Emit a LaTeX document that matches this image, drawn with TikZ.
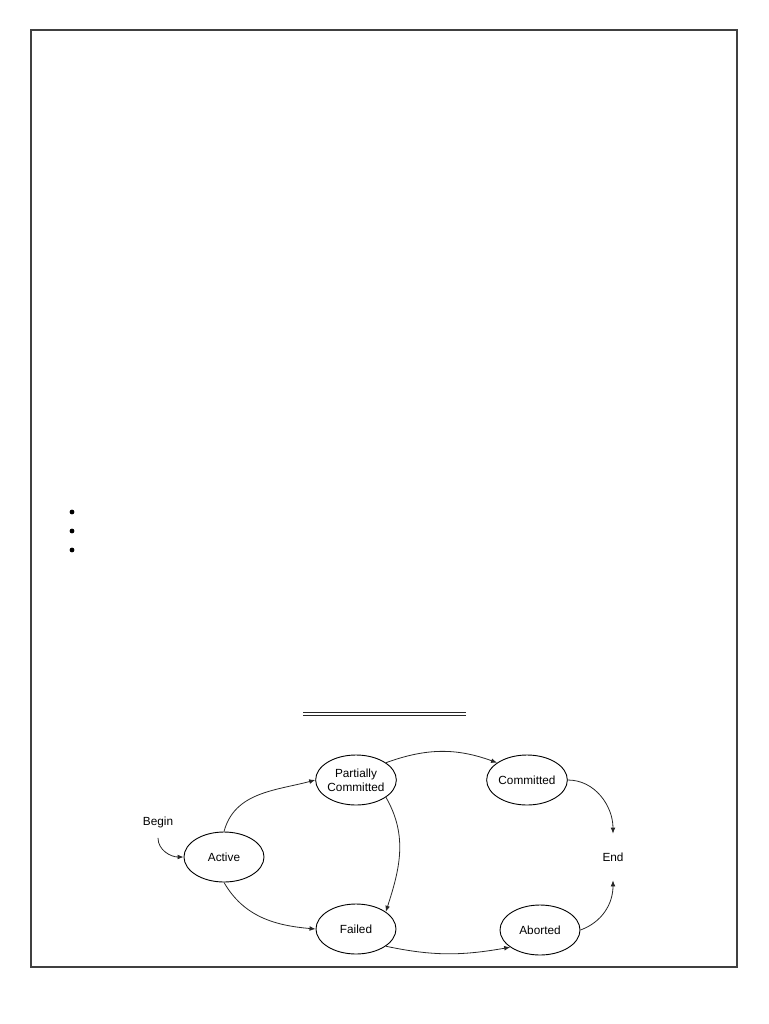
\documentclass[tikz,border=0pt]{standalone}
\usepackage{fontspec}
\setmainfont{Liberation Sans}
\usetikzlibrary{shapes.geometric,arrows.meta}

\begin{document}
\begin{tikzpicture}[x=0.5pt, y=-0.5pt,
   state/.style={ellipse, draw, line width=0.45pt, minimum width=40pt, minimum height=25pt,
      inner sep=0pt, align=center, font=\fontsize{5.9}{7}\selectfont},
   label text/.style={inner sep=1pt, font=\fontsize{5.9}{7}\selectfont},
   move/.style={-{Latex[length=3pt,width=2.4pt]}, line width=0.4pt, black!85}]
   % Page and frame
   \useasboundingbox (0,0) rectangle (768,1024);
   \draw[line width=0.8pt, black!75] (31,30) rectangle (737,967);

   % Bullets
   \foreach \y in {512,531,550}
      \fill (72,\y) circle (1.2pt);

   % Double rule over the diagram
   \draw[line width=0.5pt, black!85] (303,712) -- (466,712);
   \draw[line width=0.5pt, black!85] (303,715) -- (466,715);

   % States
   \node[label text] (begin) at (158,822) {Begin};
   \node[state] (active) at (224,857) {Active};
   \node[state] (partial) at (356,780) {Partially\\Committed};
   \node[state] (failed) at (356,929) {Failed};
   \node[state] (committed) at (527,780) {Committed};
   \node[state] (aborted) at (540,930) {Aborted};
   \node[label text, minimum height=23pt] (end) at (613,857) {End};

   % Transitions
   \draw[move] (begin.south) ++(0,-4pt) to[out=-90, in=180] (active.west);
   \draw[move] (active.north) to[out=75, in=195] (partial.west);
   \draw[move] (active.south) to[out=-60, in=175] (failed.west);
   \draw[move] (partial.-30) to[out=-60, in=72] (failed.30);
   \draw[move] (partial.30) to[out=20, in=160] (committed.150);
   \draw[move] (committed.east) to[out=0, in=90] (end.north);
   \draw[move] (aborted.east) to[out=20, in=-90] (end.south);
   \draw[move] (failed.-30) to[out=-12, in=190] (aborted.-150);
\end{tikzpicture}
\end{document}
